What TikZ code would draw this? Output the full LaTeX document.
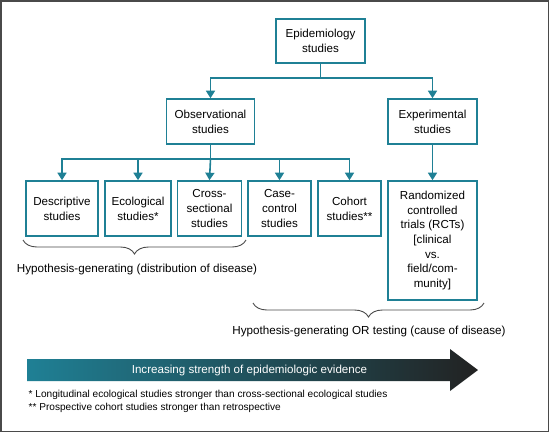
\documentclass[tikz,border=0pt]{standalone}
\usepackage{fontspec}
\setmainfont{Liberation Sans}
\usetikzlibrary{arrows.meta,decorations.pathreplacing,shapes.geometric}
\definecolor{teal1}{HTML}{1F8095}
\definecolor{dark1}{HTML}{222222}
\definecolor{frame1}{HTML}{4A4A4A}
\begin{document}
\begin{tikzpicture}[x=1pt,y=-1pt,
  box/.style={draw=teal1,line width=1.6pt,fill=white,align=center,inner sep=0pt,
    font=\fontsize{11.6}{14.7}\selectfont,text=black},
  arr/.style={draw=teal1,line width=1.6pt,-{Triangle[width=9pt,length=7.5pt]}},
  ln/.style={draw=teal1,line width=1.6pt},
  brc/.style={draw=frame1,line width=0.9pt,decorate,decoration={brace,mirror,amplitude=14pt,aspect=0.5}},
  lbl/.style={font=\fontsize{11.65}{13}\selectfont,inner sep=0pt}]
\draw[frame1,line width=1.5pt,fill=white] (0.75,0.75) rectangle (548.25,431.25);
\useasboundingbox (0,0) rectangle (549,432);
% boxes
\node[box,minimum width=89pt,minimum height=44pt] (epi) at (320.5,41) {Epidemiology\\studies};
\node[box,minimum width=88pt,minimum height=45pt] (obs) at (210.5,121.5) {Observational\\studies};
\node[box,minimum width=89pt,minimum height=45pt] (exp) at (432.5,121.5) {Experimental\\studies};
\node[box,minimum width=72pt,minimum height=55pt] (desc) at (62,208.5) {Descriptive\\studies};
\node[box,minimum width=66pt,minimum height=55pt] (eco) at (138,208.5) {Ecological\\studies*};
\node[box,minimum width=64pt,minimum height=55pt] (cross) at (209.5,208.5) {Cross-\\sectional\\studies};
\node[box,minimum width=63pt,minimum height=55pt] (case) at (279.5,208.5) {Case-\\control\\studies};
\node[box,minimum width=63pt,minimum height=55pt] (coh) at (349.5,208.5) {Cohort\\studies**};
\node[box,minimum width=89pt,minimum height=119pt] (rct) at (432.5,240.5) {Randomized\\controlled\\trials (RCTs)\\{[clinical}\\vs.\\field/com-\\munity]};
% connectors
\coordinate (b1) at (320.5,78);
\draw[ln] (epi.south) -- (b1);
\draw[arr] (b1) -| (obs.north);
\draw[arr] (b1) -| (exp.north);
\coordinate (b2) at (210.5,159);
\draw[ln] (obs.south) -- (b2);
\draw[arr] (b2) -| (desc.north);
\draw[arr] (b2) -| (eco.north);
\draw[arr] (b2) -- (cross.north);
\draw[arr] (b2) -| (case.north);
\draw[arr] (b2) -| (coh.north);
\draw[arr] (exp.south) -- (rct.north);
% braces
\coordinate (br1a) at (23,240);
\coordinate (br1b) at (246,240);
\draw[brc] (br1a) -- (br1b);
\node[lbl] (h1) at (137,269) {Hypothesis-generating (distribution of disease)};
\coordinate (br2a) at (253,303);
\coordinate (br2b) at (484,303);
\draw[brc] (br2a) -- (br2b);
\node[lbl] (h2) at (369,331) {Hypothesis-generating OR testing (cause of disease)};
% gradient arrow
\shade[left color=teal1,right color=dark1] (27,359) -- (450,359) -- (450,349) -- (478,370) -- (450,391) -- (450,381) -- (27,381) -- cycle;
\node[font=\fontsize{11.6}{13}\selectfont,text=white,inner sep=0pt] (ev) at (249.5,370) {Increasing strength of epidemiologic evidence};
% footnotes
\node[anchor=west,font=\fontsize{10.1}{11}\selectfont,inner sep=0pt] (f1) at (28.5,394.5) {* Longitudinal ecological studies stronger than cross-sectional ecological studies};
\node[anchor=west,font=\fontsize{10.1}{11}\selectfont,inner sep=0pt] (f2) at (28.5,407.5) {** Prospective cohort studies stronger than retrospective};
\end{tikzpicture}
\end{document}
